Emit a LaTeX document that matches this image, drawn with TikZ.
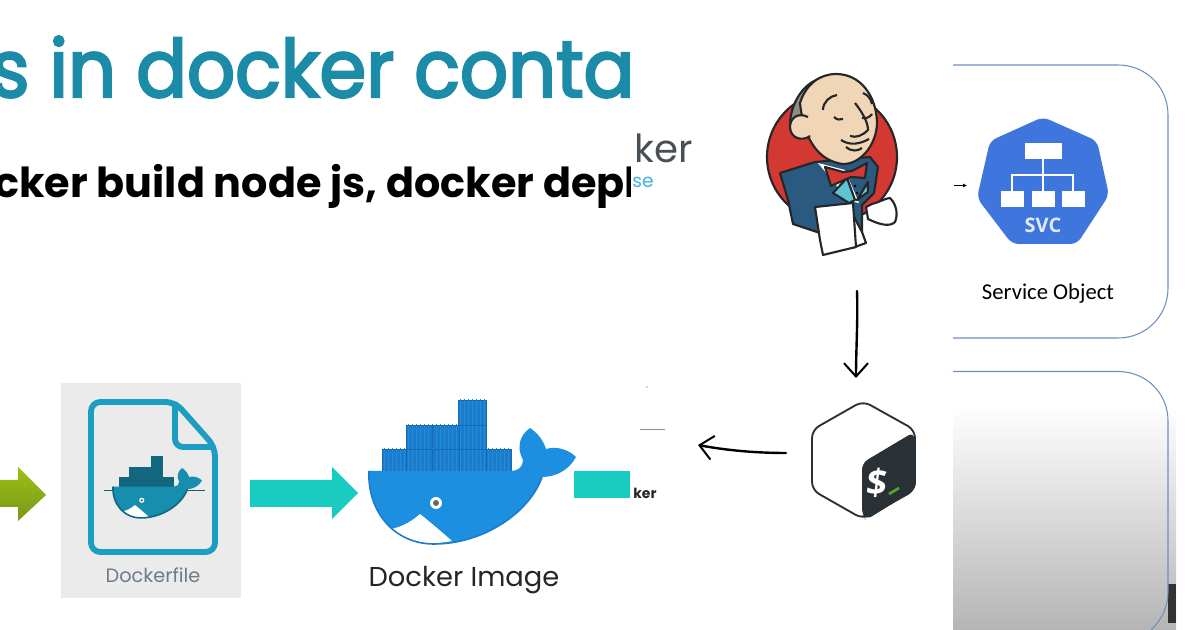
\documentclass[tikz,border=0pt]{standalone}
\usepackage{xcolor}
\usepackage{fontspec}
\setmainfont{Poppins}
\newfontfamily\titlefont[FakeBold=3,FakeStretch=0.94]{Poppins}
\newfontfamily\calibrifont{Carlito}
\newfontfamily\labelfont{Open Sans}
\usetikzlibrary{patterns,arrows.meta}

\definecolor{titleteal}{HTML}{1C8BA8}
\definecolor{arrowteal}{HTML}{19CCC2}
\definecolor{arrowgreen}{HTML}{8DB31B}
\definecolor{dockblue}{HTML}{1D8FE1}
\definecolor{dockcrate}{HTML}{1C7CCB}
\definecolor{cardgray}{HTML}{EBEBEB}
\definecolor{fileteal}{HTML}{1B9EC2}
\definecolor{boxblue}{HTML}{6F8FBD}
\definecolor{svcblue}{HTML}{3F76DD}
\definecolor{bashdark}{HTML}{293137}
\definecolor{skin}{HTML}{F0D6B7}
\definecolor{jacket}{HTML}{2B5A80}
\definecolor{butlerred}{HTML}{D33833}
\definecolor{cardtext}{HTML}{6E7B8C}
\definecolor{seblue}{HTML}{3DB0E8}

\tikzset{
  crate/.style={preaction={fill=dockcrate},pattern=vertical lines,pattern color=dockblue,draw=dockcrate!85!black,line width=0.6pt},
  sketcharrow/.style={line width=1.8pt,line cap=round,-{Straight Barb[length=10pt,width=18pt,line width=1.5pt]}},
  roundbox/.style={color=boxblue,line width=0.8pt},
  butler/.style={draw=black!85,line width=1.6pt,line join=round},
  svcbox/.style={fill=white},
  whale/.pic={
    %Shape: Crates
    \path [crate] (458.5,400) rectangle (486,425);
    \path [crate] (406,425) rectangle (432,449);
    \path [crate] (432,425) rectangle (459,449);
    \path [crate] (459,425) rectangle (486,449);
    \path [crate] (382,449) rectangle (406,472);
    \path [crate] (406,449) rectangle (432,472);
    \path [crate] (432,449) rectangle (459,472);
    \path [crate] (459,449) rectangle (486,472);
    \path [crate] (486,449) rectangle (511,472);
    %Shape: Hull
    \fill [dockblue] (369,471) -- (511,471) .. controls (518,471) and (523,467) .. (523,460) .. controls (516,447) and (520,435) .. (530,428) .. controls (538,433) and (544,442) .. (546,449) .. controls (556,446) and (568,449) .. (576,457) .. controls (569,470) and (556,477) .. (542,477) .. controls (530,512) and (484,544) .. (434,544) .. controls (393,544) and (367,510) .. (369,471) -- cycle ;
    %Shape: Belly
    \fill [white] (390,529) .. controls (402,528) and (416,518) .. (420,514) .. controls (430,522) and (443,533) .. (452,541) .. controls (430,546) and (405,542) .. (390,529) -- cycle ;
    \draw [dockcrate,line width=1.2pt] (542,477) .. controls (530,512) and (484,544) .. (434,544) .. controls (393,544) and (367,510) .. (369,471) ;
    %Shape: Eye
    \fill [white] (436,503) circle [radius=6] ;
    \fill [black!60] (436,503) circle [radius=3] ;
  }
}

\begin{document}
\begin{tikzpicture}[x=0.75pt,y=0.75pt,yscale=-1,xscale=1]
\useasboundingbox (0,0) rectangle (1200,630);

%Shape: Gradient panel
\shade [top color=white,bottom color=black!29] (953,405) rectangle (1176,630);
%Shape: Dark bar
\fill [black!80] (1168,584) rectangle (1176,623);

% Text Node
\begin{scope}
\clip (0,0) rectangle (630,630);
\draw (-10,97) node (headline) [anchor=base west,inner sep=0pt,color=titleteal] {\fontsize{60}{60}\selectfont\titlefont s in docker conta};
\draw (-6,198) node (subline) [anchor=base west,inner sep=0pt] {\fontsize{31}{31}\selectfont\bfseries cker build node js, docker depl};
\end{scope}

% Text Node
\draw (634,163) node (kerword) [anchor=base west,inner sep=0pt,color=bashdark!85] {\fontsize{29}{29}\selectfont ker};
\draw (632,188) node (seword) [anchor=base west,inner sep=0pt,color=seblue] {\fontsize{14}{14}\selectfont se};
\draw (633,499) node (kerbold) [anchor=base west,inner sep=0pt,color=black!85] {\fontsize{10.5}{10.5}\selectfont\bfseries ker};

%Straight Lines
\draw [black!45,line width=0.8pt] (640,429.5) -- (665,429.5) ;
\fill [black!25] (647,387) circle [radius=1] ;

%Shape: Green arrow
\shade [top color=arrowgreen!85!yellow,bottom color=arrowgreen!85!black] (0,480) -- (18,480) -- (18,467) -- (46,495) -- (18,521) -- (18,507) -- (0,507) -- cycle ;
%Shape: Teal arrow
\fill [arrowteal] (250,480) -- (332,480) -- (332,467) -- (358,493) -- (332,519) -- (332,507) -- (250,507) -- cycle ;
%Shape: Teal bar
\fill [arrowteal] (574,471) rectangle (630,498) ;

%Shape: Dockerfile card
\fill [cardgray] (61,383) rectangle (241,598) ;
%Shape: File icon
\draw [fileteal,line width=4.4pt,line join=round,rounded corners=7] (130,402) -- (175,402) -- (215,447) -- (215,552) -- (91,552) -- (91,402) -- cycle ;
\draw [fileteal,line width=4.4pt,line join=round,rounded corners=6] (175,402) -- (175,447) -- (215,447) ;
% Text Node
\draw (153,575) node (dockerfile) [inner sep=0pt,color=cardtext] {\fontsize{14.5}{14.5}\selectfont Dockerfile};

%Shape: Small whale
\draw [fileteal!60!black,line width=0.5pt] (104,490) -- (205,490) ;
\begin{scope}[shift={(-45.7,284)},scale=0.43]
\colorlet{dockblue}{fileteal!90!black}
\colorlet{dockcrate}{fileteal!65!black}
\tikzset{crate/.style={fill=dockcrate}}
\pic [transform shape] {whale};
\end{scope}

%Shape: Big whale
\pic [transform shape] {whale};
% Text Node
\draw (464,580) node (dockerimage) [inner sep=0pt,color=black!85] {\fontsize{20.5}{20.5}\selectfont Docker Image};

%Shape: Butler
\draw [butler,fill=butlerred] (832,157) circle [radius=65] ;
\fill [white] (780,225) -- (880,225) -- (880,260) -- (780,260) -- cycle ;
\draw [butler,fill=jacket] (780,173) -- (815,162) -- (870,157) -- (878,167) -- (874,193) -- (862,205) -- (862,232) -- (820,233) -- (793,224) -- (788,200) -- cycle ;
\fill [white] (818,163) -- (845,170) -- (859,203) -- (849,201) -- cycle ;
\draw [butler,fill=black!45!white] (790,122) .. controls (792,100) and (805,82) .. (822,78) .. controls (810,92) and (806,110) .. (806,125) -- cycle ;
\draw [butler,fill=skin] (800,103) .. controls (806,84) and (820,74) .. (836,74) .. controls (860,74) and (876,95) .. (877,122) .. controls (877,145) and (860,165) .. (842,164) .. controls (818,160) and (804,140) .. (800,103) -- cycle ;
\draw [butler,fill=skin] (808,117) .. controls (798,112) and (790,118) .. (790,127) .. controls (790,138) and (802,142) .. (810,136) ;
%Shape: Butler face
\draw [butler] (823,110) .. controls (823,102) and (830,96) .. (837,95) ;
\draw [butler] (863,93) .. controls (868,95) and (871,99) .. (872,104) ;
\draw [butler] (834,117) .. controls (837,120) and (840,120) .. (843,119) ;
\draw [butler] (862,118) .. controls (866,119) and (870,117) .. (872,114) ;
\draw [butler] (855,103) .. controls (862,112) and (868,122) .. (868,130) .. controls (862,136) and (856,138) .. (850,136) ;
\draw [butler] (841,140) .. controls (850,146) and (860,144) .. (869,139) ;
\draw [butler] (846,147) .. controls (852,152) and (858,151) .. (862,148) ;
%Shape: Butler collar
\draw [butler,fill=jacket!50!cyan!70!white] (833,193) -- (847,178) -- (855,200) -- (849,203) -- cycle ;
\draw [butler,fill=jacket!50!cyan!70!white] (857,200) -- (868,182) -- (868,192) -- cycle ;
\draw [butler,fill=butlerred] (825,167) -- (843,172) -- (852,171) -- (867,163) -- (865,178) -- (851,177) -- (831,186) -- cycle ;
\fill [black] (855,186) circle [radius=1.3] (857,193) circle [radius=1.3] ;
%Shape: Napkin
\draw [butler,fill=white] (853,215) -- (862,232) -- (866,243) -- (852,248) -- cycle ;
\draw [butler,fill=white] (815,207) -- (853,203) -- (856,247) -- (823,255) -- (820,240) -- cycle ;
%Shape: Glove
\draw [butler,fill=white] (866,207) -- (872,204) .. controls (880,202) and (886,198) .. (890,198) .. controls (897,205) and (898,215) .. (895,222) .. controls (890,227) and (880,225) .. (868,219) -- cycle ;

%Shape: Bash
\draw [line width=1.4pt,color=bashdark,fill=white,line join=round,rounded corners=6] (863,401) -- (915,430) -- (915,490) -- (863,519) -- (812,490) -- (812,430) -- cycle ;
\fill [bashdark,rounded corners=5] (862,463) -- (914,432) -- (916,489) -- (866,520) -- (862,515) -- cycle ;
% Text Node
\draw (877,483) node (dollar) [inner sep=0pt,color=white,xslant=0.12] {\fontsize{27}{27}\selectfont\labelfont\bfseries \$};
%Straight Lines
\draw [color={rgb, 255:red, 77; green, 168; blue, 37 },line width=2pt] (889,494) -- (899,488) ;

%Straight Lines
\coordinate (jenkinsout) at (857,291);
\coordinate (bashin) at (856,378);
\coordinate (bashout) at (786,453);
\coordinate (ctrin) at (698,445);
\draw [sketcharrow] (jenkinsout) .. controls (858,320) and (856,350) .. (bashin) ;
\draw [sketcharrow] (bashout) .. controls (760,453) and (730,451) .. (ctrin) ;

%Shape: Rounded Rectangle
\draw [roundbox] (953,65) -- (1118,65) .. controls (1146,65) and (1168,87) .. (1168,115) -- (1168,288) .. controls (1168,316) and (1146,338) .. (1118,338) -- (953,338) ;
\draw [roundbox] (953,371.5) -- (1118,371.5) .. controls (1146,371.5) and (1168,393) .. (1168,421) -- (1168,592) .. controls (1168,606) and (1162,620) .. (1151,630) ;

%Straight Lines
\coordinate (svcleft) at (954,185.5);
\coordinate (svcright) at (967,185.5);
\draw [line width=0.5pt,-{Latex[length=3pt,width=3pt]}] (svcleft) -- (svcright) ;

%Shape: SVC heptagon
\fill [svcblue,rounded corners=5] (1043,117) -- (1097,141) -- (1109,195) -- (1077,244) -- (1012,244) -- (977,198) -- (990,141) -- cycle ;
\fill [svcbox] (1025,143) rectangle (1062,159) ;
\fill [svcbox] (1001,191) rectangle (1024,207) ;
\fill [svcbox] (1032,191) rectangle (1055,207) ;
\fill [svcbox] (1062,191) rectangle (1085,207) ;
\draw [white,line width=2pt] (1043,159) -- (1043,191) (1012,191) -- (1012,175) -- (1073,175) -- (1073,191) ;
% Text Node
\draw (1043,225) node (svc) [inner sep=0pt,color=white!85!svcblue] {\fontsize{15}{15}\selectfont\labelfont\bfseries SVC};
\draw (1048,294) node (serviceobject) [inner sep=0pt] {\fontsize{17}{17}\selectfont\calibrifont Service Object};

\end{tikzpicture}
\end{document}
